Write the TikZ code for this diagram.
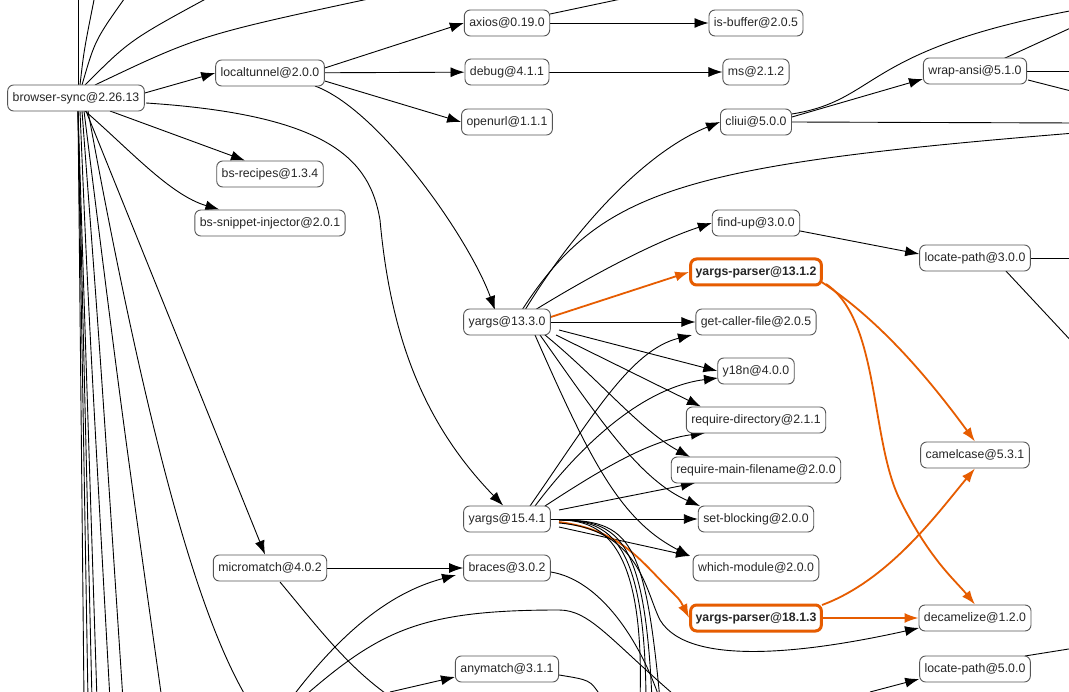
\documentclass[tikz,border=0pt]{standalone}
\usepackage{fontspec}
\setmainfont{Liberation Sans}
\usetikzlibrary{arrows.meta,calc}
\definecolor{hl}{HTML}{E65C00}
\definecolor{bd}{HTML}{555555}
\pgfdeclarelayer{bg}
\pgfsetlayers{bg,main}
\begin{document}
\begin{tikzpicture}[x=1pt,y=-1pt,
 pkg/.style={draw=bd,line width=0.9pt,rounded corners=6pt,fill=white,minimum height=26pt,inner xsep=5pt,inner ysep=0pt,font=\fontsize{12.3}{14}\selectfont,text=black!85},
 hot/.style={pkg,draw=hl,line width=3pt,font=\fontsize{12.3}{14}\selectfont\bfseries},
 e/.style={line width=0.9pt,-{Latex[length=14pt,width=10pt]}},
 l/.style={line width=0.9pt},
 o/.style={line width=1.8pt,hl,-{Latex[length=14pt,width=10pt]}}]
\useasboundingbox (0,0) rectangle (1069,692);
\clip (0,0) rectangle (1069,692);
\foreach \n/\x/\y in {t1/78/-5,t2/95/-5,t3/127/-5,t4/213/-5,t5/387/-5,
  b1/84/700,b2/88/700,b3/92/700,b4/97/700,b5/110/700,b6/123/700,b7/162/700,b8/248/700,
  m1/395/700,m2/290/700,m3/300/700,m4/640/700,m5/646/700,m6/652/700,m7/660/700,m8/870/692,
  r1/1075/123,r2/1075/133,r3/1075/10,r4/1075/71,r5/1075/92,r6/1075/26,r7/1075/258,r8/1075/345,r9/1075/648,r10/680/700}
  {\coordinate (\n) at (\x,\y);}
% nodes
\node[pkg] (bs) at (76,98) {browser-sync@2.26.13};
\node[pkg] (lt) at (270,73) {localtunnel@2.0.0};
\node[pkg] (ax) at (507,23) {axios@0.19.0};
\node[pkg] (ib) at (756,23) {is-buffer@2.0.5};
\node[pkg] (db) at (507,72) {debug@4.1.1};
\node[pkg] (ms) at (756,72) {ms@2.1.2};
\node[pkg] (ou) at (507,122) {openurl@1.1.1};
\node[pkg] (br) at (270,174) {bs-recipes@1.3.4};
\node[pkg] (bsi) at (270,223) {bs-snippet-injector@2.0.1};
\node[pkg] (cl) at (756,122) {cliui@5.0.0};
\node[pkg] (wa) at (975,71) {wrap-ansi@5.1.0};
\node[pkg] (fu) at (756,223) {find-up@3.0.0};
\node[pkg] (lp3) at (975,258) {locate-path@3.0.0};
\node[hot] (yp13) at (756,272) {yargs-parser@13.1.2};
\node[pkg] (gcf) at (756,322) {get-caller-file@2.0.5};
\node[pkg] (y13) at (507,322) {yargs@13.3.0};
\node[pkg] (y18) at (756,371) {y18n@4.0.0};
\node[pkg] (rd) at (756,420) {require-directory@2.1.1};
\node[pkg] (rmf) at (756,470) {require-main-filename@2.0.0};
\node[pkg] (cc) at (975,455) {camelcase@5.3.1};
\node[pkg] (sb) at (756,519) {set-blocking@2.0.0};
\node[pkg] (y15) at (507,519) {yargs@15.4.1};
\node[pkg] (mm) at (270,568) {micromatch@4.0.2};
\node[pkg] (bra) at (507,568) {braces@3.0.2};
\node[pkg] (wm) at (756,568) {which-module@2.0.0};
\node[hot] (yp18) at (756,618) {yargs-parser@18.1.3};
\node[pkg] (dc) at (975,618) {decamelize@1.2.0};
\node[pkg] (am) at (507,669) {anymatch@3.1.1};
\node[pkg] (lp5) at (975,669) {locate-path@5.0.0};
\begin{pgfonlayer}{bg}
\fill[white] (0,0) rectangle (1069,692);
% browser-sync
\draw[l] (78,85) -- (t1);
\draw[l] (80,85) .. controls (84,50) .. (t2);
\draw[l] (82,85) .. controls (95,40) .. (t3);
\draw[l] (85,85) .. controls (130,40) .. (t4);
\draw[l] (95,85) .. controls (200,35) .. (t5);
\draw[e] ($(bs.east)+(0,-5)$) -- (lt.west);
\draw[e] (110,111) -- ($(br.north)+(-25,0)$);
\draw[e] (85,111) .. controls (130,150) and (170,195) .. ($(bsi.north west)+(25,0)$);
\draw[e] (146,103) .. controls (330,115) and (370,160) .. (380,220) .. controls (390,330) and (420,420) .. ($(y15.north west)+(40,0)$);
\draw[e] (86,111) -- ($(mm.north)+(-5,0)$);
\foreach \c in {b1,b2,b3,b4} {\draw[l] (78,111) -- (\c);}
\draw[l] (80,111) .. controls (88,300) .. (b5);
\draw[l] (82,111) .. controls (100,350) .. (b6);
\draw[l] (84,111) .. controls (120,400) .. (b7);
\draw[l] (88,111) .. controls (150,450) and (200,620) .. (b8);
% localtunnel
\draw[e] ($(lt.east)+(0,-5)$) -- (ax.west);
\draw[e] (lt) -- (db);
\draw[e] ($(lt.east)+(0,8)$) -- (ou.west);
\draw[e] (315,86) .. controls (380,110) and (470,240) .. (495,310);
\draw[e] (ax) -- (ib);
\draw[e] (db) -- (ms);
\draw[l] ($(ax.east)+(0,-9)$) -- (640,-5);
% yargs 13
\draw[e] (525,310) .. controls (580,220) and (650,150) .. (cl.west);
\draw[l] (522,310) .. controls (600,190) and (680,165) .. (r2);
\draw[e] (535,310) .. controls (600,270) and (660,240) .. (fu.west);
\draw[o] ($(y13.east)+(0,-5)$) -- (yp13.west);
\draw[e] (y13) -- (gcf);
\draw[e] (559,330) -- (y18.west);
\draw[e] (556,335) -- ($(rd.north west)+(15,0)$);
\draw[e] (545,335) .. controls (600,380) and (640,430) .. (690,457);
\draw[e] (540,335) .. controls (600,420) and (640,480) .. (700,506);
\draw[e] (535,335) .. controls (590,460) and (620,520) .. (690,556);
% yargs 15
\draw[e] (530,506) .. controls (590,420) and (630,350) .. (692,335);
\draw[e] (535,506) .. controls (600,420) and (660,385) .. (718,378);
\draw[e] (545,506) .. controls (600,470) and (650,440) .. (705,433);
\draw[e] (559,510) -- (695,483);
\draw[e] (y15) -- (sb);
\draw[e] (559,527) -- (690,556);
\draw[o] (559,522) .. controls (620,530) and (640,560) .. (670,590) .. controls (680,600) .. (yp18.west);
\foreach \c/\k in {m4/600,m5/610,m6/620,m7/630} {\draw[l] (559,520) .. controls (\k,520) and (645,540) .. (\c);}
\draw[e] (559,523) .. controls (640,530) and (645,590) .. (660,620) .. controls (690,670) and (820,650) .. (919,628);
% micromatch, braces, anymatch
\draw[e] (mm) -- (bra);
\draw[l] (280,582) .. controls (320,630) and (350,670) .. (m1);
\draw[e] (m2) .. controls (350,620) and (400,590) .. (456,575);
\draw[l] (m3) .. controls (380,630) and (420,610) .. (559,610) .. controls (590,610) and (610,640) .. (r10);
\draw[l] ($(bra.east)+(0,4)$) .. controls (600,580) and (640,640) .. (m7);
\draw[e] (390,692) -- ($(am.west)+(0,8)$);
\draw[l] ($(am.east)+(0,6)$) .. controls (590,680) .. (600,695);
% cliui, wrap-ansi
\draw[e] ($(cl.east)+(0,-5)$) -- ($(wa.west)+(0,8)$);
\draw[l] ($(cl.east)+(0,-8)$) .. controls (880,100) and (860,50) .. (r3);
\draw[l] (cl.east) -- (r1);
\draw[l] (wa) -- (r4);
\draw[l] (1028,80) -- (r5);
\draw[l] (1003,59) -- (r6);
% find-up, locate path
\draw[e] ($(fu.east)+(0,8)$) -- ($(lp3.west)+(0,-4)$);
\draw[l] (lp3) -- (r7);
\draw[l] (1005,270) -- (r8);
\draw[e] (m8) -- ($(lp5.west)+(0,10)$);
\draw[l] (1025,656) -- (r9);
% orange
\draw[o] (820,281) .. controls (880,320) and (930,380) .. (cc.north);
\draw[o] (826,284) .. controls (880,320) and (870,440) .. (900,500) .. controls (930,560) and (955,580) .. (dc.north);
\draw[o] (822,605) .. controls (890,580) and (940,510) .. (cc.south);
\draw[o] (yp18) -- (dc);
\end{pgfonlayer}
\end{tikzpicture}
\end{document}
